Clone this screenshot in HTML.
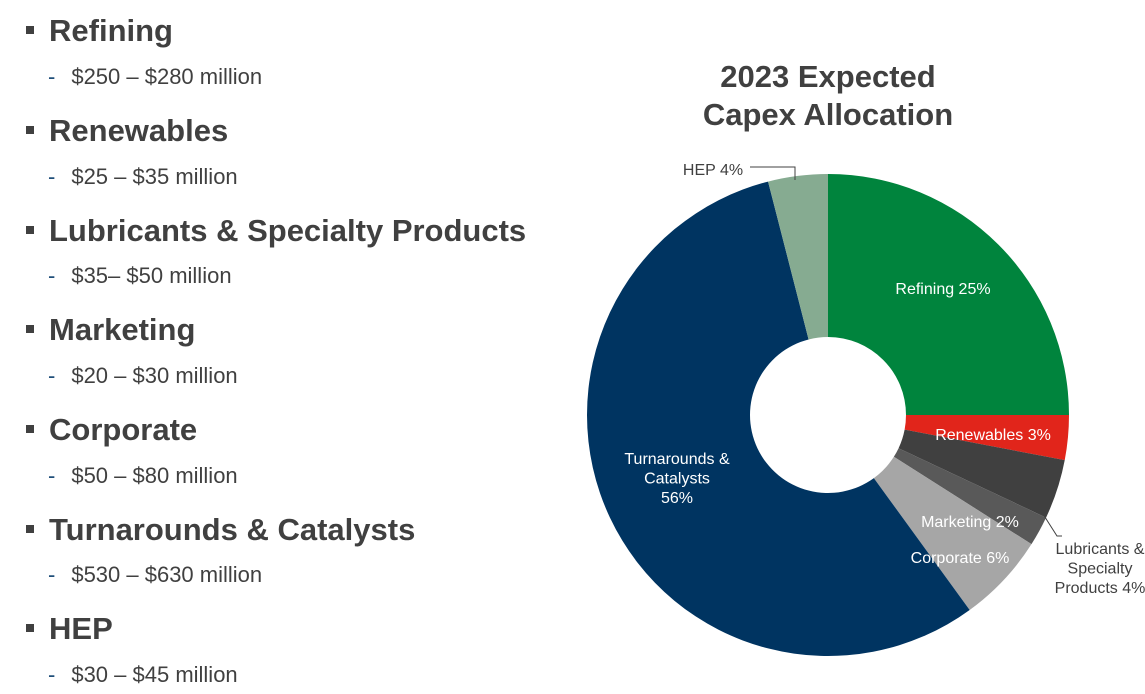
<!DOCTYPE html>
<html><head><meta charset="utf-8"><style>
body{margin:0;width:1145px;height:694px;background:#fff;font-family:"Liberation Sans",sans-serif;position:relative;overflow:hidden;color:#404040}
.h{position:absolute;left:26px;font-size:31px;font-weight:bold;line-height:34px;white-space:nowrap}
.h span.b{display:inline-block;width:8px;height:8px;background:#404040;vertical-align:middle;margin-right:15px;position:relative;top:-3px}
.s{position:absolute;left:48px;font-size:22px;line-height:24px;white-space:nowrap}
.s span.d{color:#1f4e79;margin-right:16px}
</style></head><body>
<div>
<div class="h" style="top:14px"><span class="b"></span>Refining</div>
<div class="s" style="top:65px"><span class="d">-</span>$250 – $280 million</div>
<div class="h" style="top:114px"><span class="b"></span>Renewables</div>
<div class="s" style="top:165px"><span class="d">-</span>$25 – $35 million</div>
<div class="h" style="top:214px"><span class="b"></span>Lubricants &amp; Specialty Products</div>
<div class="s" style="top:264px"><span class="d">-</span>$35– $50 million</div>
<div class="h" style="top:313px"><span class="b"></span>Marketing</div>
<div class="s" style="top:364px"><span class="d">-</span>$20 – $30 million</div>
<div class="h" style="top:413px"><span class="b"></span>Corporate</div>
<div class="s" style="top:464px"><span class="d">-</span>$50 – $80 million</div>
<div class="h" style="top:513px"><span class="b"></span>Turnarounds &amp; Catalysts</div>
<div class="s" style="top:563px"><span class="d">-</span>$530 – $630 million</div>
<div class="h" style="top:612px"><span class="b"></span>HEP</div>
<div class="s" style="top:663px"><span class="d">-</span>$30 – $45 million</div>
</div>
<svg id="chart" width="1145" height="694" style="position:absolute;left:0;top:0">
<text x="828" y="87" text-anchor="middle" font-size="31" font-weight="bold" fill="#404040">2023 Expected</text>
<text x="828" y="125" text-anchor="middle" font-size="31" font-weight="bold" fill="#404040">Capex Allocation</text>
</svg>
<script>
const categories=["Refining","Renewables","Lubricants & Specialty Products","Marketing","Corporate","Turnarounds & Catalysts","HEP"];
const values=[25,3,4,2,6,56,4];
const colors=["#00843d","#e1251b","#404040","#595959","#a6a6a6","#003461","#86ab91"];
const svg=document.getElementById('chart');const NS="http://www.w3.org/2000/svg";
const cx=828,cy=415,R=241,r=78;
const total=values.reduce((a,b)=>a+b,0);
function pt(a,rad){return [cx+rad*Math.sin(a),cy-rad*Math.cos(a)];}
let acc=0;
values.forEach((v,i)=>{
 const a0=acc/total*2*Math.PI;acc+=v;const a1=acc/total*2*Math.PI;
 const lg=(a1-a0)>Math.PI?1:0;
 const p0=pt(a0,R),p1=pt(a1,R),q1=pt(a1,r),q0=pt(a0,r);
 const p=document.createElementNS(NS,'path');
 p.setAttribute('d',`M${p0} A${R},${R} 0 ${lg} 1 ${p1} L${q1} A${r},${r} 0 ${lg} 0 ${q0}Z`);
 p.setAttribute('fill',colors[i]);
 
 
 svg.appendChild(p);
});
function lbl(lines,x,y,fill,anchor,name){
 lines.forEach((t,k)=>{const e=document.createElementNS(NS,'text');
 e.setAttribute('x',x);e.setAttribute('y',y+k*19.5);e.setAttribute('text-anchor',anchor||'middle');
 e.setAttribute('font-size','16');e.setAttribute('fill',fill);e.textContent=t;
 
 
 svg.appendChild(e);});
}
lbl(["Refining "+values[0]+"%"],943,294,"#fff","middle","label-refining");
lbl(["Renewables "+values[1]+"%"],993,440,"#fff","middle","label-renewables");
lbl(["Marketing "+values[3]+"%"],970,527,"#fff","middle","label-marketing");
lbl(["Corporate "+values[4]+"%"],960,563,"#fff","middle","label-corporate");
lbl(["Turnarounds &","Catalysts",values[5]+"%"],677,464,"#fff","middle","label-turnarounds");
lbl(["Lubricants &","Specialty","Products "+values[2]+"%"],1100,554,"#404040","middle","label-lubricants");
lbl(["HEP "+values[6]+"%"],713,175,"#404040","middle","label-hep");
const l1=document.createElementNS(NS,'polyline');
l1.setAttribute('points','1043,514 1057,536 1062,536');l1.setAttribute('fill','none');l1.setAttribute('stroke','#404040');


svg.appendChild(l1);
const l2=document.createElementNS(NS,'polyline');
l2.setAttribute('points','750,167 795,167 795,180');l2.setAttribute('fill','none');l2.setAttribute('stroke','#404040');


svg.appendChild(l2);
</script>
</body></html>
